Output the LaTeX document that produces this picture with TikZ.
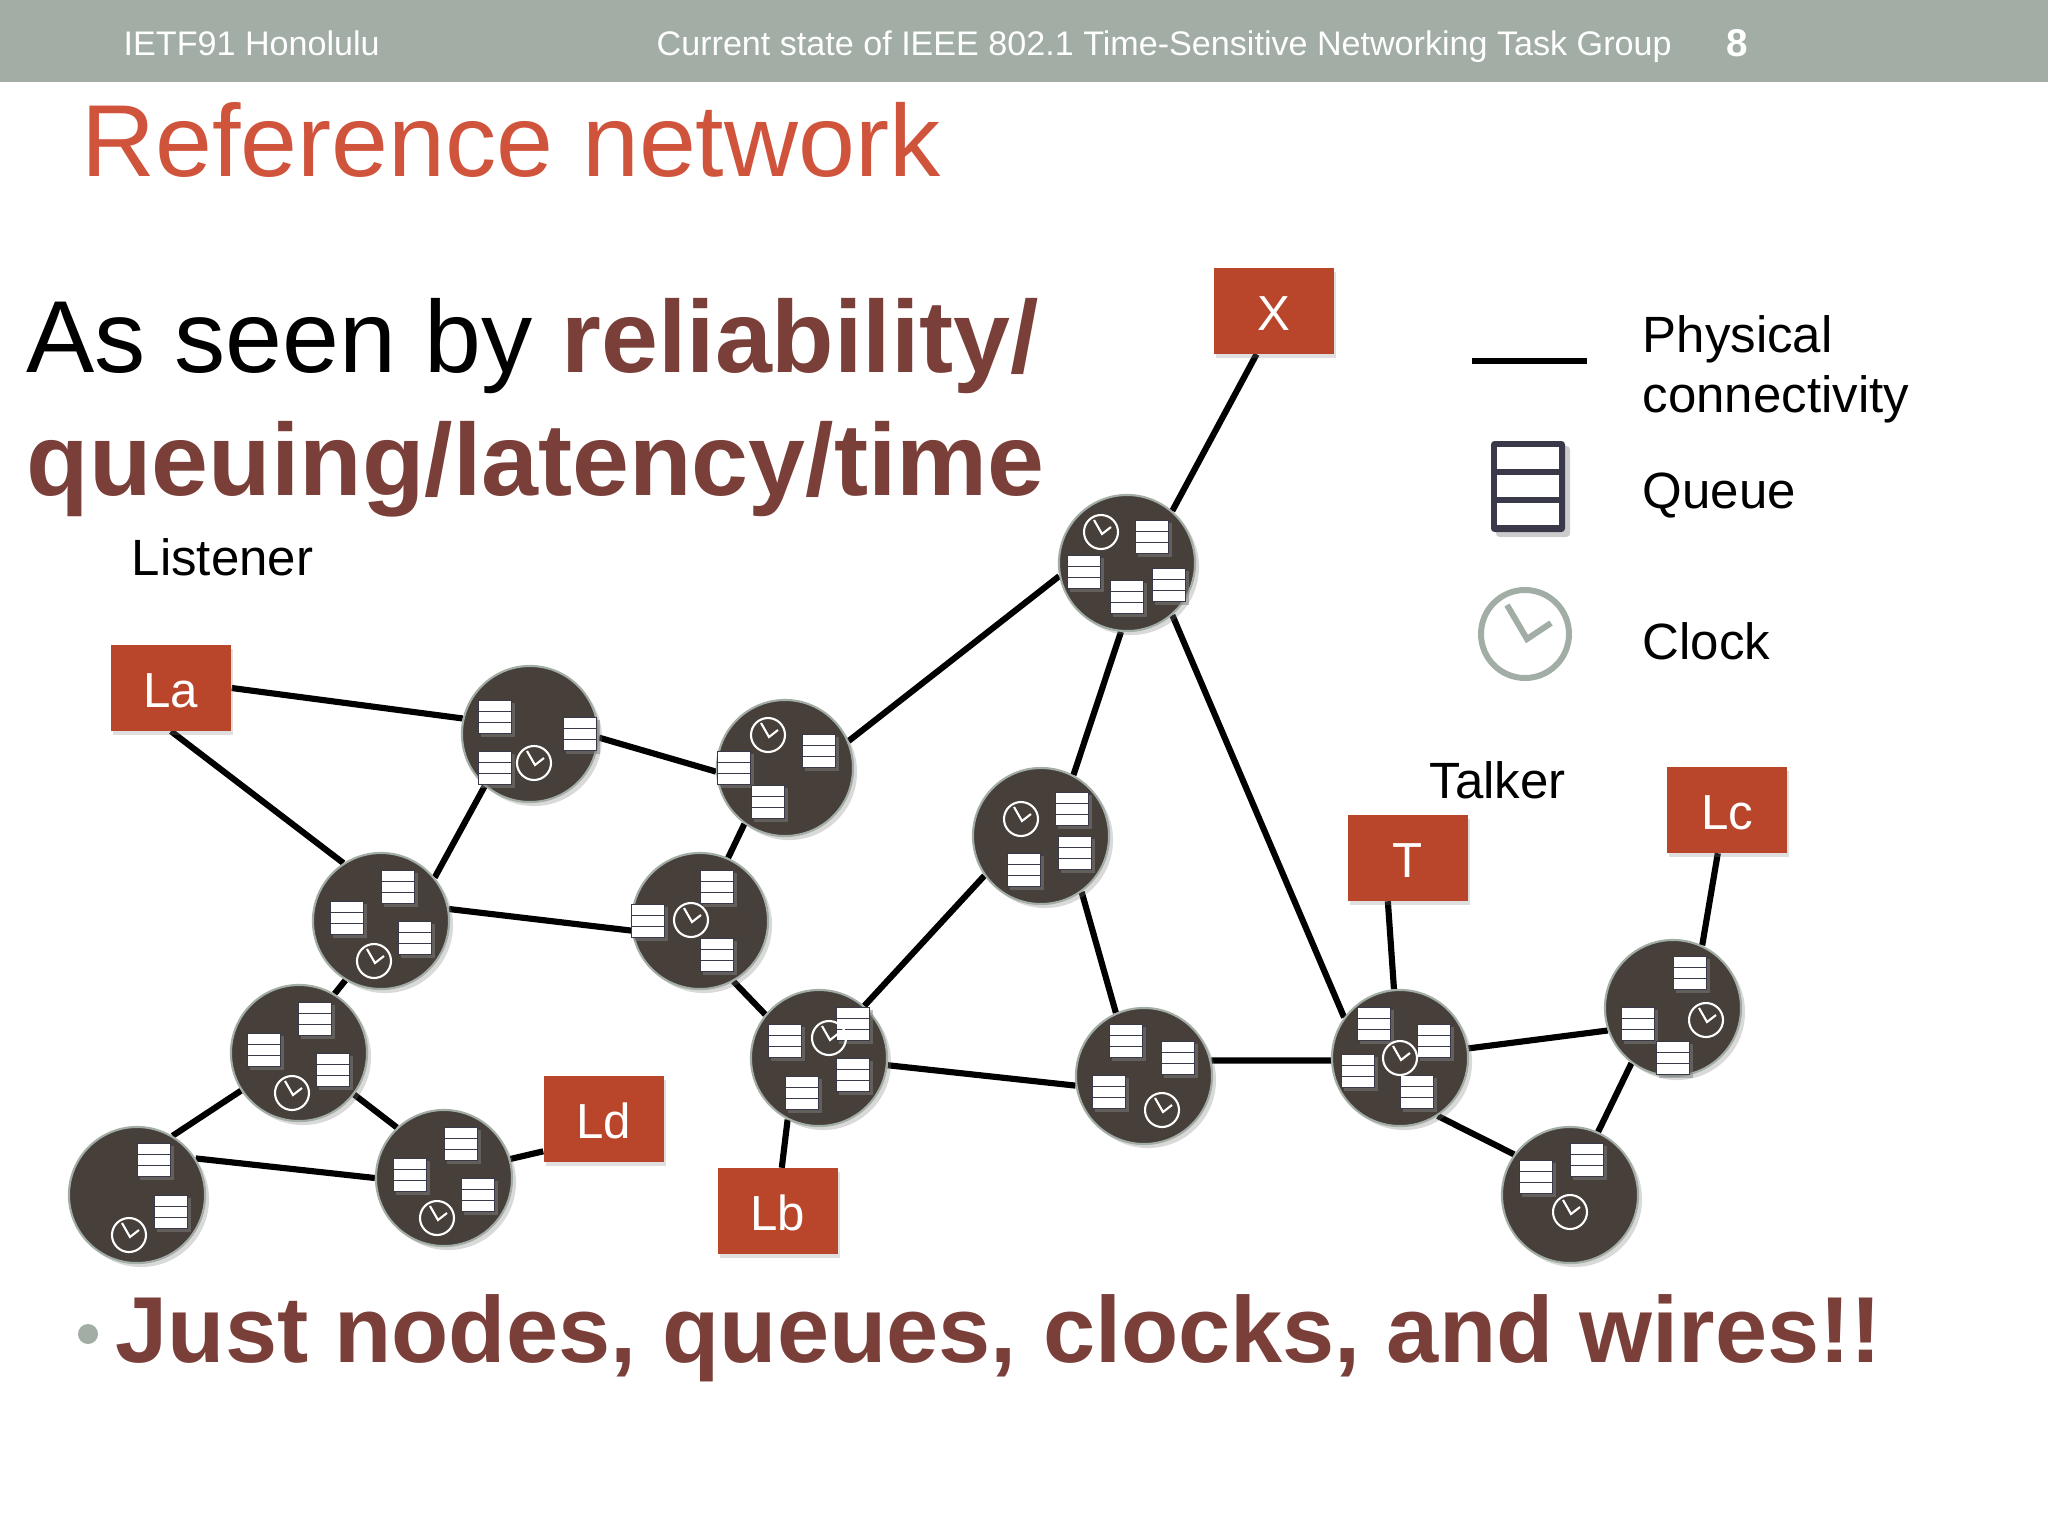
\documentclass[tikz,border=0pt]{standalone}
\usepackage{fontspec}
\setmainfont{Liberation Sans}
\usepackage{xcolor}
\usepackage{tikz}
\usetikzlibrary{shadows}
\usetikzlibrary{backgrounds}
\definecolor{bandgray}{HTML}{A1ADA5}
\definecolor{titlered}{HTML}{D0533C}
\definecolor{boldbrown}{HTML}{7A3F39}
\definecolor{boxred}{HTML}{B9452B}
\definecolor{nodedark}{HTML}{463F3A}
\definecolor{queuedark}{HTML}{3A3949}
\tikzset{
	netnode/.style={circle,fill=nodedark,draw=bandgray,line width=0.6pt,minimum size=1.36cm,inner sep=0pt,
		drop shadow={shadow xshift=0.04cm,shadow yshift=-0.04cm,opacity=0.3}},
	endbox/.style={rectangle,fill=boxred,text=white,minimum width=1.2cm,minimum height=0.85cm,inner sep=0pt,
		text height=0.39cm,text depth=0pt,font=\fontsize{14}{17}\selectfont,
		drop shadow={shadow xshift=0.02cm,shadow yshift=-0.04cm,opacity=0.25}},
	wire/.style={black,line width=1.75pt},
	lbl/.style={anchor=west,inner sep=0pt,font=\fontsize{14.5}{17}\selectfont},
	bigtxt/.style={anchor=west,inner sep=0pt,font=\fontsize{29.1}{35}\selectfont},
	hdr/.style={anchor=base west,inner sep=0pt,text=white,font=\fontsize{9.7}{12}\selectfont},
	clockline/.style={draw=white,line width=0.6pt},
	queue/.pic={
		\fill[queuedark,drop shadow={shadow xshift=0.03cm,shadow yshift=-0.03cm,opacity=0.5}] (-17,-17) rectangle (17,17);
		\fill[white] (-16,-16) rectangle (16,-6);
		\fill[white] (-16,-5) rectangle (16,5);
		\fill[white] (-16,6) rectangle (16,16);
	},
	clockface/.pic={
		\draw[clockline] (0,0) circle (17);
		\draw[clockline] (-7,-12) -- (1,2) -- (10,-5);
	}
}
\begin{document}
\begin{tikzpicture}[x=0.01cm,y=-0.01cm]
\useasboundingbox (0,0) rectangle (2048,1536);
%bandeau
\fill[bandgray] (0,0) rectangle (2048,82);
\node[hdr] (hdra) at (123,55) {IETF91 Honolulu};
\node[hdr] (hdrb) at (656,55) {Current state of IEEE 802.1 Time-Sensitive Networking Task Group};
\node[hdr,anchor=center,font=\fontsize{11}{12}\bfseries] (hdrc) at (1737,43) {8};
%titre
\node[anchor=west,inner sep=0pt,text=titlered,font=\fontsize{29.1}{34}\selectfont] (title) at (81,140) {Reference network};
\node[bigtxt] (linea) at (26,346) {As seen by \textcolor{boldbrown}{\bfseries reliability/}};
\node[bigtxt,text=boldbrown,font=\fontsize{29.1}{35}\bfseries] (lineb) at (26,469) {queuing/latency/time};
\node[lbl] (listener) at (131,557) {Listener};
\node[lbl] (talker) at (1429,780) {Talker};
%bas
\node[circle,fill=bandgray,minimum size=0.2cm,inner sep=0pt] (dot) at (88,1334) {};
\node[bigtxt,text=boldbrown,font=\fontsize{26.66}{32}\bfseries] (bottom) at (115,1338) {Just nodes, queues, clocks, and wires!!};
%legende
\coordinate (la) at (1472,361);
\coordinate (lb) at (1587,361);
\draw[black,line width=1.75pt] (la)--(lb);
\node[lbl,align=left,font=\fontsize{14.5}{17}\selectfont] (phys) at (1642,369) {Physical\\connectivity};
\node[lbl] (legq) at (1642,496) {Queue};
\node[lbl] (legc) at (1642,641) {Clock};
\fill[queuedark,rounded corners=1pt,drop shadow={shadow xshift=0.05cm,shadow yshift=-0.05cm,opacity=0.4}] (1491,441) rectangle (1565,532);
\fill[white] (1497,447) rectangle (1559,469);
\fill[white] (1497,475) rectangle (1559,497);
\fill[white] (1497,503) rectangle (1559,525);
\begin{scope}[shift={(1525,634)}]
	\draw[bandgray,line width=1.7pt] (0,0) circle (44);
	\draw[bandgray,line width=1.7pt] (-18,-29) -- (2,5) -- (26,-11);
\end{scope}
%boites
\node[endbox] (X) at (1274,311) {X};
\node[endbox] (La) at (171,688) {La};
\node[endbox] (T) at (1408,858) {T};
\node[endbox] (Lc) at (1727,810) {Lc};
\node[endbox] (Ld) at (604,1119) {Ld};
\node[endbox] (Lb) at (778,1211) {Lb};
%noeuds
\begin{scope}[shift={(1127,563)}]
	\node[netnode] (A) at (0,0) {};
	\pic at (25,-26) {queue};
	\pic at (-43,9) {queue};
	\pic at (0,34) {queue};
	\pic at (42,22) {queue};
	\pic at (-26,-31) {clockface};
\end{scope}
\begin{scope}[shift={(530,734)}]
	\node[netnode] (B) at (0,0) {};
	\pic at (-35,-17) {queue};
	\pic at (50,0) {queue};
	\pic at (-35,34) {queue};
	\pic at (4,29) {clockface};
\end{scope}
\begin{scope}[shift={(785,768)}]
	\node[netnode] (C) at (0,0) {};
	\pic at (34,-17) {queue};
	\pic at (-51,0) {queue};
	\pic at (-17,34) {queue};
	\pic at (-17,-33) {clockface};
\end{scope}
\begin{scope}[shift={(381,921)}]
	\node[netnode] (D) at (0,0) {};
	\pic at (17,-34) {queue};
	\pic at (-34,-3) {queue};
	\pic at (34,17) {queue};
	\pic at (-7,40) {clockface};
\end{scope}
\begin{scope}[shift={(700,921)}]
	\node[netnode] (E) at (0,0) {};
	\pic at (17,-34) {queue};
	\pic at (-52,0) {queue};
	\pic at (17,34) {queue};
	\pic at (-9,-1) {clockface};
\end{scope}
\begin{scope}[shift={(1041,836)}]
	\node[netnode] (F) at (0,0) {};
	\pic at (31,-27) {queue};
	\pic at (34,17) {queue};
	\pic at (-17,34) {queue};
	\pic at (-20,-17) {clockface};
\end{scope}
\begin{scope}[shift={(299,1053)}]
	\node[netnode] (G) at (0,0) {};
	\pic at (16,-34) {queue};
	\pic at (-35,-3) {queue};
	\pic at (34,17) {queue};
	\pic at (-7,40) {clockface};
\end{scope}
\begin{scope}[shift={(819,1058)}]
	\node[netnode] (H) at (0,0) {};
	\pic at (34,-34) {queue};
	\pic at (-34,-17) {queue};
	\pic at (34,17) {queue};
	\pic at (-17,35) {queue};
	\pic at (10,-20) {clockface};
\end{scope}
\begin{scope}[shift={(1144,1076)}]
	\node[netnode] (I) at (0,0) {};
	\pic at (-18,-35) {queue};
	\pic at (34,-18) {queue};
	\pic at (-35,16) {queue};
	\pic at (18,34) {clockface};
\end{scope}
\begin{scope}[shift={(1400,1058)}]
	\node[netnode] (J) at (0,0) {};
	\pic at (-26,-34) {queue};
	\pic at (34,-17) {queue};
	\pic at (-42,13) {queue};
	\pic at (17,34) {queue};
	\pic at (0,0) {clockface};
\end{scope}
\begin{scope}[shift={(1673,1008)}]
	\node[netnode] (K) at (0,0) {};
	\pic at (17,-35) {queue};
	\pic at (-35,16) {queue};
	\pic at (0,50) {queue};
	\pic at (33,12) {clockface};
\end{scope}
\begin{scope}[shift={(1570,1195)}]
	\node[netnode] (L) at (0,0) {};
	\pic at (17,-35) {queue};
	\pic at (-34,-18) {queue};
	\pic at (0,17) {clockface};
\end{scope}
\begin{scope}[shift={(137,1195)}]
	\node[netnode] (M) at (0,0) {};
	\pic at (17,-35) {queue};
	\pic at (34,17) {queue};
	\pic at (-8,40) {clockface};
\end{scope}
\begin{scope}[shift={(444,1178)}]
	\node[netnode] (N) at (0,0) {};
	\pic at (17,-34) {queue};
	\pic at (-34,-3) {queue};
	\pic at (34,17) {queue};
	\pic at (-7,40) {clockface};
\end{scope}
%liens
\begin{scope}[on background layer]
	\draw[wire] (X.248) -- (A.49);
	\draw[wire] (La.0) -- (B.167);
	\draw[wire] (La.270) -- (D.123);
	\draw[wire] (B.357) -- (C.183);
	\draw[wire] (B.229) -- (D.39);
	\draw[wire] (C.23) -- (A.191);
	\draw[wire] (C.234) -- (E.66);
	\draw[wire] (D.10) -- (E.188);
	\draw[wire] (D.239) -- (G.59);
	\draw[wire] (E.299) -- (H.141);
	\draw[wire] (G.213) -- (M.59);
	\draw[wire] (G.323) -- (N.133);
	\draw[wire] (M.32) -- (N.180);
	\draw[wire] (N.16) -- (Ld.208);
	\draw[wire] (H.243) -- (Lb.85);
	\draw[wire] (H.49) -- (F.215);
	\draw[wire] (H.354) -- (I.188);
	\draw[wire] (F.62) -- (A.265);
	\draw[wire] (F.306) -- (I.114);
	\draw[wire] (A.311) -- (J.144);
	\draw[wire] (I.13) -- (J.182);
	\draw[wire] (J.95) -- (T.245);
	\draw[wire] (J.8) -- (K.199);
	\draw[wire] (J.303) -- (L.144);
	\draw[wire] (K.233) -- (L.66);
	\draw[wire] (K.65) -- (Lc.258);
\end{scope}
\end{tikzpicture}
\end{document}
